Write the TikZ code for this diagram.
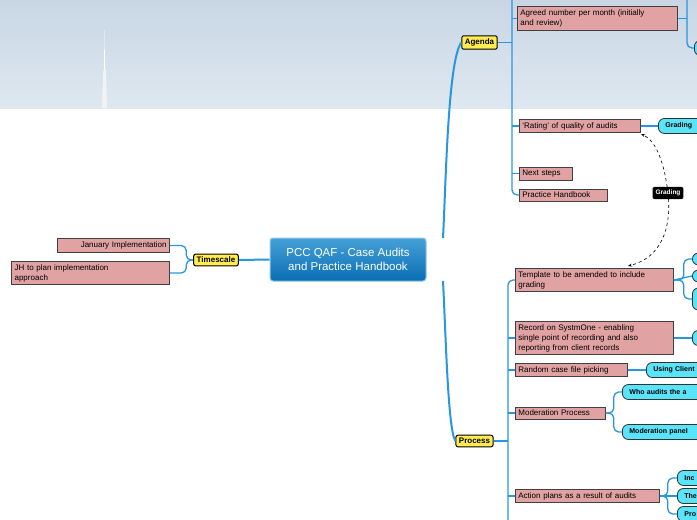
\documentclass[tikz,border=0pt]{standalone}
\usepackage{fontspec}
\setmainfont{Liberation Sans}
\usetikzlibrary{arrows.meta}
\definecolor{pinkf}{RGB}{224,162,162}
\definecolor{yel}{RGB}{255,236,80}
\definecolor{cyanf}{RGB}{90,228,250}
\definecolor{lnk}{RGB}{40,150,225}
\definecolor{cenA}{RGB}{70,160,215}
\definecolor{cenB}{RGB}{10,110,180}
\tikzset{
 pinkbox/.style={draw=black!75,fill=pinkf,line width=0.8pt,inner xsep=3pt,inner ysep=3pt,align=left,font=\fontsize{8}{10}\selectfont,anchor=west},
 pw/.style={text width=#1-6pt},
 cw/.style={text width=#1-14pt},
 yelbox/.style={draw=black,fill=yel,line width=1pt,rounded corners=2pt,inner sep=3pt,font=\fontsize{8}{10}\selectfont\bfseries},
 cybox/.style={draw=black!80,fill=cyanf,line width=0.8pt,rounded corners=6pt,inner xsep=7pt,inner ysep=2pt,font=\fontsize{7}{8}\selectfont\bfseries,anchor=west,minimum height=15pt,align=left},
 lk/.style={draw=lnk,line width=1.3pt,rounded corners=5pt},
 lkt/.style={draw=lnk,line width=2pt,rounded corners=8pt},
}
\begin{document}
\begin{tikzpicture}[x=1pt,y=-1pt]
\useasboundingbox (0,0) rectangle (697,520);
\clip (0,0) rectangle (697,520);
% sky
\shade[top color={rgb,255:red,200;green,214;blue,228},bottom color={rgb,255:red,222;green,232;blue,240}] (0,0) rectangle (697,108);
\fill[white] (103.5,108) -- (104.5,30) -- (105.5,108) -- cycle;
\fill[white!90!gray] (102,108) -- (103.3,70) -- (106,70) -- (107,108) -- cycle;

% central
\node[draw=cenA!60!white,line width=1pt,rounded corners=3pt,minimum width=156pt,minimum height=43pt,
  top color=cenA,bottom color=cenB,text=white,font=\fontsize{11.5}{14}\selectfont,align=center,inner sep=2pt]
  (c) at (348,259.5) {PCC QAF - Case Audits\\and Practice Handbook};

\node[yelbox] (ts) at (216,260) {Timescale};
\node[pinkbox,pw=112pt,align=right,anchor=east] (jan) at (170,245.5) {January Implementation};
\node[pinkbox,pw=158pt,anchor=east] (jh) at (170,273) {JH to plan implementation\\approach};

\node[yelbox] (ag) at (479.5,42.5) {Agenda};
\node[pinkbox,pw=160pt] (agr) at (517,18.5) {Agreed number per month (initially\\and review)};
\node[pinkbox,pw=121pt] (rat) at (519,126) {`Rating' of quality of audits};
\node[cybox,cw=60pt] (grd) at (658,126) {Grading};
\node[pinkbox,pw=53pt] (ns) at (519,173.5) {Next steps};
\node[pinkbox,pw=88pt] (ph) at (519,195) {Practice Handbook};

\node[yelbox] (pr) at (474.5,441) {Process};
\node[pinkbox,pw=158pt] (tp) at (515,280) {Template to be amended to include\\grading};
\node[pinkbox,pw=158pt] (rec) at (515,338) {Record on SystmOne - enabling\\single point of recording and also\\reporting from client records};
\node[pinkbox,pw=112pt] (rnd) at (515,370) {Random case file picking};
\node[cybox,cw=70pt] (ucl) at (646,370) {Using Client};
\node[pinkbox,pw=90pt] (mod) at (515,413) {Moderation Process};
\node[cybox,cw=90pt] (who) at (622,392) {Who audits the a};
\node[cybox,cw=90pt] (mpn) at (622,432) {Moderation panel};
\node[pinkbox,pw=144pt] (act) at (515,496) {Action plans as a result of audits};
\node[cybox,cw=40pt] (a1) at (677,478) {Inc};
\node[cybox,cw=40pt] (a2) at (677,496) {The};
\node[cybox,cw=40pt] (a3) at (677,514) {Pro};

\node[cybox,cw=30pt,minimum height=12pt] (t1) at (692,259) {};
\node[cybox,cw=30pt,minimum height=12pt] (t2) at (692,276) {};
\node[cybox,cw=30pt,minimum height=22pt] (t3) at (692,299) {};
\node[cybox,cw=30pt] (r1) at (692,338) {};
\node[cybox,cw=30pt] (g1) at (694,48) {};

% connectors
\draw[lkt] (c.west) -- (ts.east);
\draw[lk] (ts.west) -- ++(-7,0) |- (jan.east);
\draw[lk] (ts.west) -- ++(-7,0) |- (jh.east);
\draw[lkt] (443,238) .. controls (446,180) and (448,60) .. (ag.west);
\draw[lkt] (443,281) .. controls (446,340) and (448,430) .. (pr.west);
\draw[lk] (ag.east) -- (512,42.5);
\draw[lk] (512,0) -- (512,195) -- (ph.west);
\draw[lk] (512,18.5) -- (agr.west);
\draw[lk] (512,126) -- (rat.west);
\draw[lk] (512,173.5) -- (ns.west);
\draw[lk] (rat.east) -- (grd.west);
\draw[lk] (agr.east) -- (687,18.5);
\draw[lk] (687,0) |- (g1.west);

\draw[lk] (pr.east) -- (508,441);
\draw[lk] (tp.west) -- (508,280) -- (508,520);
\draw[lk] (508,338) -- (rec.west);
\draw[lk] (508,370) -- (rnd.west);
\draw[lk] (508,413) -- (mod.west);
\draw[lk] (508,496) -- (act.west);
\draw[lk] (rnd.east) -- (ucl.west);
\draw[lk] (mod.east) -- ++(8,0) |- (who.west);
\draw[lk] (mod.east) -- ++(8,0) |- (mpn.west);
\draw[lk] (act.east) -- ++(8,0) |- (a1.west);
\draw[lk] (act.east) -- (a2.west);
\draw[lk] (act.east) -- ++(8,0) |- (a3.west);
\draw[lk] (tp.east) -- ++(10,0) |- (t1.west);
\draw[lk] (tp.east) -- (t2.west);
\draw[lk] (tp.east) -- ++(10,0) |- (t3.west);
\draw[lk] (rec.east) -- (r1.west);

% dashed relation
\draw[dashed,line width=0.6pt,-{Stealth[length=4pt]}] (668,193) .. controls (672,230) and (660,258) .. (628,266);
\draw[dashed,line width=0.6pt,-{Stealth[length=4pt]}] (668,193) .. controls (664,160) and (655,140) .. (641,134);
\node[fill=black,text=white,rounded corners=2pt,font=\fontsize{6.5}{7}\selectfont\bfseries,inner sep=3pt] (gl) at (668,193) {Grading};
\end{tikzpicture}
\end{document}
